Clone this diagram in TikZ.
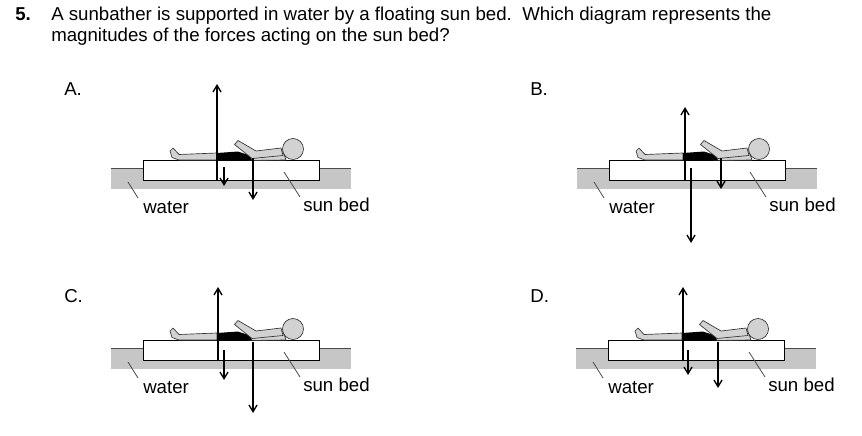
\documentclass[tikz,border=0pt]{standalone}
\usepackage{fontspec}
\setmainfont{Liberation Sans}
\usetikzlibrary{arrows.meta}
\begin{document}
\begin{tikzpicture}[x=0.75pt,y=-0.75pt,
  lbl/.style={font=\fontsize{14}{17}\selectfont,inner sep=0,anchor=west},
  force/.style={line width=1.1pt,-{Straight Barb[length=5pt,width=6pt,line width=1pt]}},
  limb/.style={fill=gray!35,draw=black!80,line width=0.5pt,line join=round},
  scene/.pic={
    \fill[gray!45] (111,168) rectangle (351,189);
    \draw[black!70,line width=0.7pt] (111,168) -- (143,168) (319,168) -- (351,168);
    \node[draw,fill=white,line width=0.7pt,minimum width=132pt,minimum height=14.6pt,inner sep=0] (-bed) at (231,170.3) {};
    % legs
    \draw[limb] (170,151) -- (173,148) -- (179,154.5) -- (217,153) -- (217,160) -- (179,160) -- (172,157.5) -- cycle;
    % torso
    \draw[limb] (246,152.5) -- (283,151) -- (286,160) -- (248,160.5) -- cycle;
    % shorts
    \fill[black] (217,153) -- (238,151.5) -- (250,155.5) -- (252,160.5) -- (217,160.5) -- cycle;
    % arm
    \draw[limb] (281,148) -- (256,151) -- (238,140.5) -- (234.5,144.5) -- (252,158.5) -- (283,155.5) -- cycle;
    % head
    \draw[limb] (293,149) circle (10.5);
    \node[lbl] (-w) at (143,208) {water};
    \node[lbl] (-s) at (303,205) {sun bed};
    \draw[black!70,line width=0.6pt] (128,182) -- (138,198);
    \draw[black!70,line width=0.6pt] (284,172) -- (300,197);
  }]
\useasboundingbox (0,0) rectangle (862,435);
\node[anchor=base west,inner sep=0,font=\fontsize{14}{17}\bfseries] (num) at (15,21) {5.};
\node[anchor=base west,inner sep=0,font=\fontsize{14}{17}\selectfont] (q1) at (51,21) {A sunbather is supported in water by a floating sun bed.\ \ Which diagram represents the};
\node[anchor=base west,inner sep=0,font=\fontsize{14}{17}\selectfont] (q2) at (51,42) {magnitudes of the forces acting on the sun bed?};
\node[lbl] (la) at (64,89) {A.};
\node[lbl] (lb) at (530,89) {B.};
\node[lbl] (lc) at (64,296) {C.};
\node[lbl] (ld) at (530,296) {D.};
% A
\pic (pa) at (0,0) {scene};
\coordinate (a1) at (217,180); \coordinate (a1e) at (217,84);
\coordinate (a2) at (224,167); \coordinate (a2e) at (224,186);
\coordinate (a3) at (253,158); \coordinate (a3e) at (253,200);
\draw[force] (a1) -- (a1e); \draw[force] (a2) -- (a2e); \draw[force] (a3) -- (a3e);
% B
\pic (pb) at (466,0) {scene};
\coordinate (b1) at (685,180); \coordinate (b1e) at (685,107);
\coordinate (b2) at (691,168); \coordinate (b2e) at (691,243);
\coordinate (b3) at (721,158); \coordinate (b3e) at (721,189);
\draw[force] (b1) -- (b1e); \draw[force] (b2) -- (b2e); \draw[force] (b3) -- (b3e);
% C
\pic (pc) at (0,180) {scene};
\coordinate (c1) at (218,360); \coordinate (c1e) at (218,287);
\coordinate (c2) at (224,350); \coordinate (c2e) at (224,380);
\coordinate (c3) at (253,342); \coordinate (c3e) at (253,413);
\draw[force] (c1) -- (c1e); \draw[force] (c2) -- (c2e); \draw[force] (c3) -- (c3e);
% D
\pic (pd) at (465,180) {scene};
\coordinate (d1) at (683,360); \coordinate (d1e) at (683,287);
\coordinate (d2) at (688,350); \coordinate (d2e) at (688,375);
\coordinate (d3) at (718,342); \coordinate (d3e) at (718,388);
\draw[force] (d1) -- (d1e); \draw[force] (d2) -- (d2e); \draw[force] (d3) -- (d3e);
\end{tikzpicture}
\end{document}
